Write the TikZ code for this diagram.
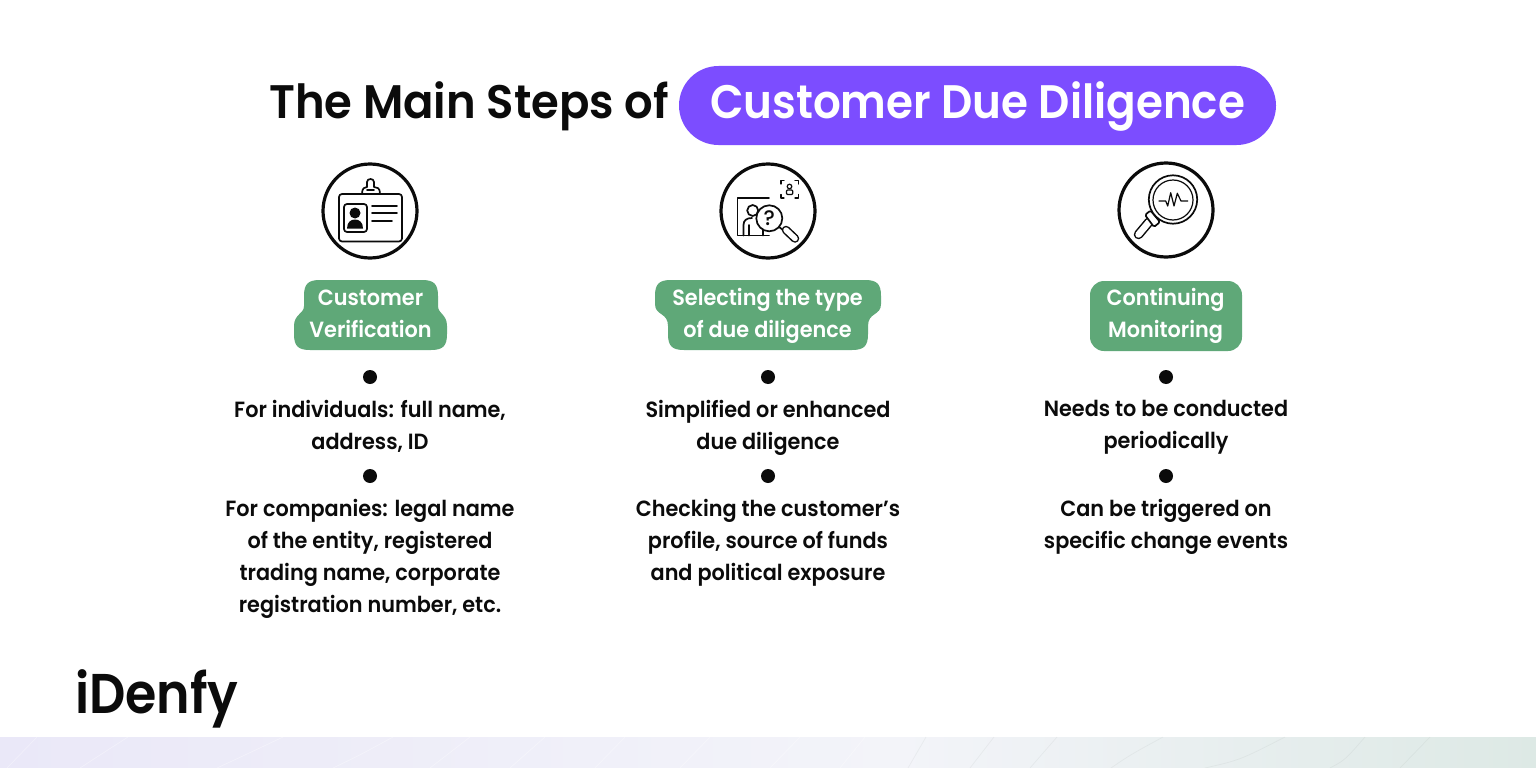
\documentclass[tikz,border=0pt]{standalone}
\usepackage{fontspec}
\setmainfont{Poppins SemiBold}[FakeStretch=0.945]
\newfontfamily\titlefont{Poppins SemiBold}[FakeStretch=0.955]
\newfontfamily\pillfont{Poppins SemiBold}[FakeStretch=0.928]
\newfontfamily\logofont{Poppins SemiBold}[FakeStretch=0.905]
\newfontfamily\qfont{Poppins Medium}
\usetikzlibrary{shadings}
\definecolor{pill}{HTML}{7C4DFF}
\definecolor{tag}{HTML}{5FA878}
\definecolor{ink}{HTML}{0B0B0B}
\definecolor{bandL}{HTML}{EAE8F8}
\definecolor{bandM}{HTML}{F3F4F9}
\definecolor{bandR}{HTML}{DDE9E5}
\tikzset{
 x=1pt,y=-1pt,
 ring/.style={draw=ink,line width=3.2pt,fill=white,circle,minimum size=94pt,inner sep=0pt},
 icon/.style={draw=ink,line width=1.7pt,line join=round,line cap=round},
 thin icon/.style={draw=ink,line width=1.2pt,line join=round,line cap=round},
 tagtext/.style={text=white,font=\fontsize{22}{32}\selectfont,align=center,inner sep=0pt},
 body/.style={text=ink,font=\fontsize{22}{32}\selectfont,align=center,inner sep=0pt,anchor=north},
 bullet/.style={circle,fill=ink,minimum size=14pt,inner sep=0pt},
 bandlineL/.style={draw=white,line width=0.7pt,opacity=.35},
 bandlineR/.style={draw=black!30!bandR,line width=0.7pt,opacity=.12}
}
\begin{document}
\begin{tikzpicture}
\useasboundingbox (0,0) rectangle (1536,768);
\fill[white] (0,0) rectangle (1536,768);
% bottom band
\fill[left color=bandL,right color=bandM] (0,737) rectangle (900,768);
\fill[left color=bandM,right color=bandR] (900,737) rectangle (1536,768);
\draw[bandlineL] (7,768) -- (37,737) (80,768) .. controls (100,755) .. (128,737) (217,768) .. controls (245,755) .. (283,737) (333,768) .. controls (360,755) .. (393,737) (430,768) -- (470,737) (510,768) -- (545,737) (595,768) -- (625,737) (680,768) -- (710,737) (770,768) -- (800,737) (840,768) -- (865,737);
\draw[bandlineR] (908,768) -- (926,737) (970,768) -- (994,737) (1030,768) -- (1057,737) (1111,768) .. controls (1130,755) .. (1163,737) (1205,768) .. controls (1240,760) .. (1285,737) (1330,768) .. controls (1345,760) .. (1365,737) (1400,768) -- (1430,737);

% title
\node[anchor=base west,inner sep=0pt,text=ink,font=\titlefont\fontsize{47}{50}\selectfont] (title) at (269,118) {The Main Steps of};
\node[fill=pill,rounded corners=39.5pt,minimum width=597pt,minimum height=79pt,inner sep=0pt] (pillbox) at (977.5,105.5) {};
\node[anchor=base,inner sep=0pt,text=white,font=\pillfont\fontsize{47}{50}\selectfont] (pilltext) at (977.5,118) {Customer Due Diligence};

% icon rings
\node[ring] (ic1) at (370,211) {};
\node[ring] (ic2) at (768,211) {};
\node[ring] (ic3) at (1166,210) {};

% icon 1: ID badge
\draw[icon] (362,193.5) .. controls (362,188) and (365,187) .. (367,187) -- (367,182) .. controls (367,178) and (374,178) .. (374,182) -- (374,187) .. controls (377,187) and (380,188) .. (380,193.5);
\draw[icon] (367,190) -- (374,190);
\draw[icon,rounded corners=3pt] (339,194) rectangle (402,241.5);
\draw[icon,rounded corners=3pt] (344,204) rectangle (367,232);
\fill[ink] (355,213) circle (5.5pt);
\fill[ink] (347,228.5) .. controls (347,222) and (351,219.5) .. (355,219.5) .. controls (359,219.5) and (363,222) .. (363,228.5) -- cycle;
\draw[icon] (372,205.7) -- (397,205.7) (372,212.7) -- (397,212.7) (372,220.7) -- (392,220.7);

% icon 2: portrait under lens
\draw[icon] (769,198) -- (737.5,198) -- (737.5,235.5) -- (769,235.5);
\draw[icon] (743.5,235.5) -- (743.5,225) .. controls (743.5,220) and (747,218) .. (752,218) (749,235.5) -- (749,225) (763,235.5) -- (763,228);
\draw[icon] (752.7,210.5) circle (5.5pt);
\draw[icon,fill=white] (769.3,218.3) circle (13pt);
\node[inner sep=0pt,text=ink,font=\qfont\fontsize{21}{21}\selectfont] (qmark) at (769.3,218.5) {?};
\draw[icon] (779,227) -- (783,230);
\draw[draw=ink,line width=8.5pt,line cap=round] (786,230) -- (795,238.5);
\draw[draw=white,line width=5.5pt,line cap=round] (786,230) -- (795,238.5);
\draw[thin icon] (781,184) |- (784,180.5) (795,180.5) -| (798.5,184) (798.5,194.5) |- (795,198) (784,198) -| (781,194.5);
\draw[thin icon] (789.5,186.5) circle (2.3pt);
\draw[thin icon,rounded corners=1pt] (786.5,190) rectangle (792.7,194.5);

% icon 3: magnifier with pulse
\draw[draw=ink,line width=9.5pt,line cap=round] (1149,222) -- (1138.5,234.5);
\draw[draw=white,line width=6.5pt,line cap=round] (1149,222) -- (1138.5,234.5);
\draw[icon,fill=white,rounded corners=1.5pt] (1145,215) -- (1150.5,210.5) -- (1160,222) -- (1154,227) -- cycle;
\draw[icon,fill=white] (1173,199.5) circle (24.2pt);
\draw[thin icon] (1173,200) circle (20pt);
\draw[thin icon] (1159,201) -- (1165.7,201) -- (1167.7,206) -- (1170.7,192.7) -- (1174,206) -- (1177.3,193.3) -- (1181,201) -- (1187.7,201);

% tag 1
\fill[tag] (320,280) -- (422,280) .. controls (434,280) and (438,284) .. (438,296) -- (438,306) .. controls (438,314) and (447,314) .. (447,326) -- (447,334) .. controls (447,346) and (443,350) .. (431,350) -- (310,350) .. controls (298,350) and (294,346) .. (294,334) -- (294,326) .. controls (294,314) and (304,314) .. (304,306) -- (304,296) .. controls (304,284) and (308,280) .. (320,280) -- cycle;
\node[tagtext] (tag1) at (370.5,313.5) {Customer\\Verification};
% tag 2
\fill[tag] (671,280) -- (865,280) .. controls (877,280) and (881,284) .. (881,296) -- (881,304) .. controls (881,316) and (868,312) .. (868,326) -- (868,334) .. controls (868,346) and (864,350) .. (852,350) -- (684,350) .. controls (672,350) and (668,346) .. (668,334) -- (668,326) .. controls (668,312) and (655,316) .. (655,304) -- (655,296) .. controls (655,284) and (659,280) .. (671,280) -- cycle;
\node[tagtext] (tag2) at (767.5,315.5) {Selecting the type\\of due diligence};
% tag 3
\node[fill=tag,rounded corners=14pt,minimum width=152pt,minimum height=70pt,inner sep=0pt] (tag3box) at (1166,316) {};
\node[tagtext] (tag3) at (1165.5,316) {Continuing\\Monitoring};

% column 1
\node[bullet] (b11) at (370,377) {};
\node[body] (t11) at (370,400) {For individuals: full name,\\address, ID};
\node[bullet] (b12) at (370,476) {};
\node[body] (t12) at (370,499.5) {For companies: legal name\\of the entity, registered\\trading name, corporate\\registration number, etc.};
% column 2
\node[bullet] (b21) at (768,377) {};
\node[body] (t21) at (768,400) {Simplified or enhanced\\due diligence};
\node[bullet] (b22) at (768,476) {};
\node[body] (t22) at (768,499.5) {Checking the customer’s\\profile, source of funds\\and political exposure};
% column 3
\node[bullet] (b31) at (1166,377) {};
\node[body] (t31) at (1166,400.5) {Needs to be conducted\\periodically};
\node[bullet] (b32) at (1166,476) {};
\node[body] (t32) at (1166,499.5) {Can be triggered on\\specific change events};

% logo
\node[anchor=base west,inner sep=0pt,text=ink,font=\logofont\fontsize{56}{56}\selectfont] (logo) at (75,713.5) {iDenfy};
\end{tikzpicture}
\end{document}
